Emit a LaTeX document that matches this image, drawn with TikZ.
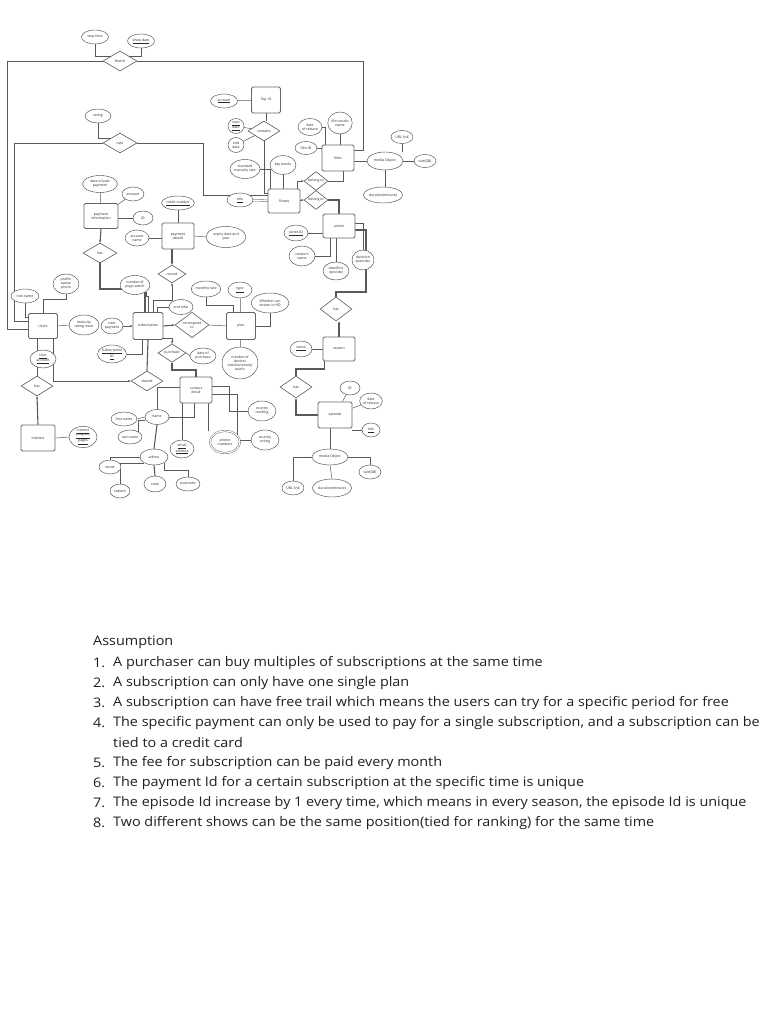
\documentclass[tikz,border=0pt]{standalone}
\usepackage{fontspec}
\setmainfont{Open Sans}
\newfontfamily\asfont[FakeStretch=1.09]{Open Sans}
\usetikzlibrary{shapes.geometric,arrows.meta,backgrounds,calc}
\begin{document}
\begin{tikzpicture}[x=1pt,y=-1pt,
 every node/.style={font=\fontsize{3.5}{4.0}\selectfont, align=center, text=black!85},
 ent/.style={rectangle, rounded corners=1.5pt, draw=black!60, line width=0.9pt, fill=white, minimum width=31pt, minimum height=25pt, inner sep=0.5pt},
 attr/.style 2 args={ellipse, draw=black!70, line width=0.45pt, fill=white, inner sep=0pt, minimum width=#1pt, minimum height=#2pt},
 mattr/.style 2 args={ellipse, draw=black!70, line width=0.35pt, double=white, double distance=1.2pt, fill=white, inner sep=0pt, minimum width=#1pt, minimum height=#2pt},
 rel/.style 2 args={diamond, draw=black!65, line width=0.6pt, fill=white, inner sep=0pt, minimum width=#1pt, minimum height=#2pt},
 con/.style={draw=black!65, line width=0.5pt},
 tcon/.style={draw=black!65, line width=1.1pt},
 dcon/.style={draw=black!65, line width=0.4pt, double=white, double distance=1.3pt},
 arr/.style={-{Stealth[length=2.6pt,width=2.2pt]}},
 txt/.style={font=\asfont\fontsize{13.2}{15}\selectfont, text=black!88, inner sep=0pt, anchor=west, align=left}
]
\useasboundingbox (0,0) rectangle (768,1024);

% ---------- top ----------
\node[attr={27}{14}] (stoptime) at (95,37) {stop time};
\node[attr={27}{14}] (showdate) at (141,41) {\underline{show date}};
\node[rel={34}{20}] (watch) at (120,61) {Watch};
\node[attr={26}{14}] (rating) at (98,116) {rating};
\node[rel={34}{20}] (rate) at (120,143) {rate};

\node[ent, minimum width=29pt, minimum height=26pt] (top10) at (266,100) {Top 10};
\node[attr={27}{14}] (account) at (224,101) {\underline{account}};
\node[rel={32}{20}] (contains) at (264,131) {contains};
\node[attr={16}{15}] (startdate) at (236,126) {\underline{start}\\\underline{date}};
\node[attr={16}{15}] (enddate) at (236,145) {end\\date};
\node[attr={30}{19}] (stdrate) at (245,169) {standard\\maturity rate};
\node[attr={26}{19}] (keywords) at (283,165) {key words};
\node[ent, minimum width=32pt, minimum height=24pt] (shows) at (284,201) {Shows};
\node[attr={26}{14}] (title) at (240,200) {\underline{title}};

\node[attr={22}{13}] (filmid) at (306,148) {film ID};
\node[attr={24}{17}] (dateofrel) at (310,127) {date\\of release};
\node[attr={22}{22}] (studio) at (340,123) {film studio\\name};
\node[ent, minimum width=32pt, minimum height=26pt] (films) at (338,158) {films};
\node[attr={36}{18}] (media1) at (385,161) {media Object};
\node[attr={22}{13}] (url1) at (402,137) {URL link};
\node[attr={22}{13}] (size1) at (425,161) {size(GB)};
\node[attr={34}{16}] (dur1) at (383,195) {duration(minute)};
\node[rel={24}{13}] (belong1) at (316,181) {belong to};
\node[rel={24}{13}] (belong2) at (316,200) {belong to};

\node[ent, minimum width=32pt, minimum height=24pt] (anime) at (339,226) {anime};
\node[attr={24}{16}] (seriesid) at (296,233) {\underline{series ID}};
\node[attr={26}{20}] (creators) at (302,256) {creators\\name};
\node[attr={26}{18}] (datefirst) at (336,271) {date(first\\episode)};
\node[attr={22}{20}] (durep) at (363,260) {duration\\episodes};
\node[rel={32}{24}] (has3) at (336,309) {has};
\node[ent, minimum width=32pt, minimum height=24pt] (season) at (339,349) {season};
\node[attr={22}{16}] (name2) at (301,349) {\underline{name}};
\node[rel={32}{22}] (has4) at (296,387) {has};
\node[ent, minimum width=34pt, minimum height=26pt] (episode) at (335,415) {episode};
\node[attr={20}{14}] (id2) at (350,388) {ID};
\node[attr={22}{16}] (daterel2) at (371,401) {date\\of release};
\node[attr={18}{14}] (title2) at (371,430) {\underline{title}};
\node[attr={36}{16}] (media2) at (330,457) {media Object};
\node[attr={22}{14}] (url2) at (293,488) {URL link};
\node[attr={34}{18}] (dur2) at (332,488) {duration(minute)};
\node[attr={22}{14}] (size2) at (370,472) {size(GB)};

% ---------- left ----------
\node[attr={35}{17}] (pastpay) at (100,184) {date of past\\payment};
\node[attr={22}{14}] (amount) at (133,194) {amount};
\node[ent, minimum width=34pt, minimum height=25pt] (payinfo) at (101,216) {payment\\information};
\node[attr={20}{14}] (id1) at (143,218) {ID};
\node[attr={24}{16}] (accname) at (137,238) {account\\name};
\node[attr={28}{14}] (credit) at (178,203) {\underline{credit number}};
\node[ent, minimum width=32pt, minimum height=26pt] (paydet) at (178,236) {payment\\details};
\node[attr={40}{21}] (expiry) at (226,237) {expiry date and\\year};
\node[rel={34}{20}] (has1) at (100,253) {has};
\node[rel={28}{18}] (record) at (172,274) {record};

\node[attr={28}{14}] (nick) at (25,296) {nick name};
\node[attr={26}{20}] (avatar) at (66,284) {profile\\avatar\\photo};
\node[ent, minimum width=29pt, minimum height=25pt] (users) at (43,326) {Users};
\node[attr={30}{20}] (maturity) at (84,325) {maturity\\rating issue};
\node[attr={26}{18}] (useracc) at (43,359) {\underline{User}\\\underline{account}};
\node[rel={32}{20}] (has2) at (37,386) {has};
\node[ent, minimum width=34pt, minimum height=26pt] (interest) at (38,438) {Interest};
\node[attr={28}{20}] (ipp) at (83,437) {\underline{Interest}\\\underline{program}\\\underline{pages}};

\node[attr={30}{19}] (plays) at (135,285) {number of\\plays watch};
\node[attr={22}{16}] (nextpay) at (112,326) {next\\payment};
\node[ent, minimum width=30pt, minimum height=27pt] (sub) at (148,326) {subscription};
\node[attr={26}{18}] (subid) at (112,354) {\underline{Subscription}\\\underline{ID}};
\node[attr={24}{15}] (endtime) at (181,307) {end time};
\node[attr={28}{16}] (monthly) at (206,289) {monthly rate};
\node[attr={24}{16}] (type) at (240,290) {\underline{type}};
\node[attr={38}{20}] (hd) at (270,303) {Whether can\\stream in HD};
\node[rel={34}{20}] (corr) at (192,325) {correspond\\to};
\node[ent, minimum width=29pt, minimum height=27pt] (plan) at (241,326) {plan};
\node[attr={36}{32}] (devices) at (240,363) {number of\\devices\\simultaneously\\watch};
\node[rel={28}{18}] (purchase) at (172,353) {purchase};
\node[attr={26}{16}] (datepur) at (203,356) {date of\\purchase};
\node[rel={32}{20}] (shared) at (147,381) {shared};

\node[ent, minimum width=32pt, minimum height=26pt] (contact) at (196,390) {contact\\detail};
\node[attr={28}{20}] (residing) at (262,411) {country\\residing};
\node[attr={28}{20}] (voting) at (265,440) {country\\voting};
\node[mattr={30}{22}] (phone) at (225,442) {phone\\numbers};
\node[attr={24}{15}] (name1) at (157,417) {name};
\node[attr={26}{14}] (first) at (124,419) {first name};
\node[attr={24}{14}] (last) at (130,437) {last name};
\node[attr={24}{18}] (email) at (182,449) {\underline{email}\\\underline{address}};
\node[attr={28}{16}] (adress) at (154,457) {adress};
\node[attr={22}{14}] (street) at (110,467) {street};
\node[attr={22}{16}] (state) at (155,484) {state};
\node[attr={24}{14}] (postcode) at (188,484) {postcode};
\node[attr={20}{14}] (suburb) at (120,491) {suburb};

% ---------- connectors ----------
\begin{scope}[on background layer]
\draw[con] (stoptime.south) |- (watch.north west);
\draw[con] (showdate.south) |- (watch.north east);
\draw[con] (watch.west) -| (7,329) -- (users.west |- 7,329);
\draw[con] (watch.east) -| (363,150) -- (films.east |- 363,150);
\draw[con] (rating.south) |- (rate.north west);
\draw[con] (rate.west) -| (14,321) -- (users.west |- 14,321);
\draw[con] (rate.east) -| (203,195) -- (shows.west |- 203,195);

\draw[con] (account) -- (top10);
\draw[con] (top10.south) -- (top10.south |- contains.north);
\draw[con] (startdate) -- (contains);
\draw[con] (enddate) -- (contains);
\draw[con] (contains.south) |- ([yshift=-5pt]shows.north west);
\draw[con] (stdrate.east) -| ([xshift=3pt]shows.north west);
\draw[con] (keywords) -- (keywords |- shows.north);
\draw[dcon] (title) -- (shows);
\draw[con,arr] ([xshift=-3pt]shows.north east) |- (belong1.west);
\draw[con] (belong1.east) -| ([xshift=5pt]films.south);
\draw[con,arr] (shows.east |- belong2.west) -- (belong2.west);
\draw[tcon] (belong2.east) -| (anime.north);

\draw[con] (filmid.east) -- (films.west |- filmid.east);
\draw[con] (dateofrel.east) -| ([xshift=4pt]films.north west);
\draw[con] (studio.south) -- (studio.south |- films.north);
\draw[con] (films.east |- media1.west) -- (media1.west);
\draw[con] (url1.south) -- (url1.south |- media1.north);
\draw[con] (media1.east) -- (size1.west);
\draw[con] (media1.south) -- (media1.south |- dur1.north);

\draw[con] (seriesid.east) -- (anime.west |- seriesid.east);
\draw[con] (creators.east) -| ([xshift=-9pt]anime.south);
\draw[con] (datefirst.north) -- (datefirst.north |- anime.south);
\draw[con] (durep.north) |- ([yshift=3pt]anime.east);
\draw[tcon] ([yshift=-4pt]anime.east) -| (366,292) -| (has3.north);
\draw[tcon,arr] (season.north) -- (season.north |- has3.south);
\draw[con] (name2.east) -- (season.west);
\draw[tcon] ([xshift=2pt]season.south west) |- (has4.north |- 0,369) -- (has4.north);
\draw[tcon,arr] (episode.west) -| (has4.south);
\draw[con] (id2) -- (episode);
\draw[con] (daterel2) -- (episode);
\draw[con] (title2.west) -- (episode.east |- title2.west);
\draw[con] (media2.north) -- (media2.north |- episode.south);
\draw[con] (media2.west) -| (url2.north);
\draw[con] (media2.south) -- (dur2.north);
\draw[con] (media2.east) -| (size2.north);

\draw[con] (pastpay) -- (payinfo);
\draw[con] (amount) -- (payinfo);
\draw[con] (id1.west) -- (payinfo.east |- id1.west);
\draw[tcon,arr] (payinfo.south) -- (has1.north);
\draw[tcon] (has1.south) |- ([xshift=-3pt]sub.north |- 0,289) -- ([xshift=-3pt]sub.north);
\draw[con] (plays.south east) |- ([xshift=0pt]sub.north |- 0,296) -- (sub.north);
\draw[con] (credit) -- (paydet);
\draw[con] (accname.east) -- (paydet.west |- accname.east);
\draw[con] (paydet.east) -- (expiry.west);
\draw[tcon,arr] (record.north |- paydet.south) -- (record.north);
\draw[con,arr] ([xshift=5pt]sub.north) |- (record.south |- 0,300) -- (record.south);
\draw[con] (endtime.west) -| ([xshift=9pt]sub.north);

\draw[con] (nick.south) |- ([yshift=-4pt]users.north west);
\draw[con] (avatar.south) |- (43,299) -- (users.north);
\draw[con] (users.east) -- (maturity.west);
\draw[dcon] (users.south) -- (useracc.north);
\draw[con] (has2.north) -- (has2.north |- users.south);
\draw[con,arr] ([xshift=10pt]users.south) |- (shared.west);
\draw[tcon,arr] (interest.north) -- (has2.south);
\draw[con] (interest.east) -- (ipp.west);

\draw[con,arr] (nextpay.east) -- (sub.west |- nextpay.east);
\draw[con] (subid.east) -| ([xshift=-6pt]sub.south);
\draw[tcon,arr] (sub.east) -- (corr.west);
\draw[con] (corr.east) -- (plan.west);
\draw[con,arr] ([yshift=2pt]sub.south east) -| (purchase.north);
\draw[tcon] (sub.south) -- (shared.north);
\draw[con] (purchase.east) -- (datepur.west);
\draw[tcon] (purchase.south) |- (contact.north |- 0,370) -- (contact.north);

\draw[con] (monthly.south) |- ([xshift=-8pt]plan.north |- 0,305) -- ([xshift=-8pt]plan.north);
\draw[con] (type) -- (plan);
\draw[con] (hd.south) |- (plan.east);
\draw[con] (plan) -- (devices);

\draw[con] ([yshift=4pt]contact.east) -| (229,411) -- (residing.west);
\draw[con] ([yshift=-4pt]contact.east) -| (237,440) -- (voting.west);
\draw[con] ([xshift=-4pt]contact.south east) -- ([xshift=-4pt]contact.south east |- phone.north);
\draw[con] ([yshift=3pt]contact.west) -| (name1.north);
\draw[con] (name1.east) -| ([xshift=-2pt]contact.south);
\draw[con] (email.north) -- (email.north |- contact.south);
\draw[con] (first.east) -- (name1.west);
\draw[con] (last.north east) |- ([yshift=-3pt]name1.west);
\draw[tcon] (name1.south) -- (adress.north);
\draw[con] (adress.west) -| (street.north);
\draw[tcon] (adress.south) -- (state.north);
\draw[con] (adress.south east) |- (postcode.north |- 0,470) -- (postcode.north);
\draw[con] (suburb.north) |- (adress.south west);
\end{scope}

% ---------- assumptions ----------
\node[txt] (ahead) at (93,642) {Assumption};
\foreach \n/\yy in {1/663,2/683,3/703,4/723,5/763,6/783,7/803,8/823}
  \node[txt] (num\n) at (93,\yy) {\n.};
\node[txt] (a1) at (113,663) {A purchaser can buy multiples of subscriptions at the same time};
\node[txt] (a2) at (113,683) {A subscription can only have one single plan};
\node[txt] (a3) at (113,703) {A subscription can have free trail which means the users can try for a specific period for free};
\node[txt] (a4) at (113,723) {The specific payment can only be used to pay for a single subscription, and a subscription can be};
\node[txt] (a4b) at (113,743) {tied to a credit card};
\node[txt] (a5) at (113,763) {The fee for subscription can be paid every month};
\node[txt] (a6) at (113,783) {The payment Id for a certain subscription at the specific time is unique};
\node[txt] (a7) at (113,803) {The episode Id increase by 1 every time, which means in every season, the episode Id is unique};
\node[txt] (a8) at (113,823) {Two different shows can be the same position(tied for ranking) for the same time};
\end{tikzpicture}
\end{document}
